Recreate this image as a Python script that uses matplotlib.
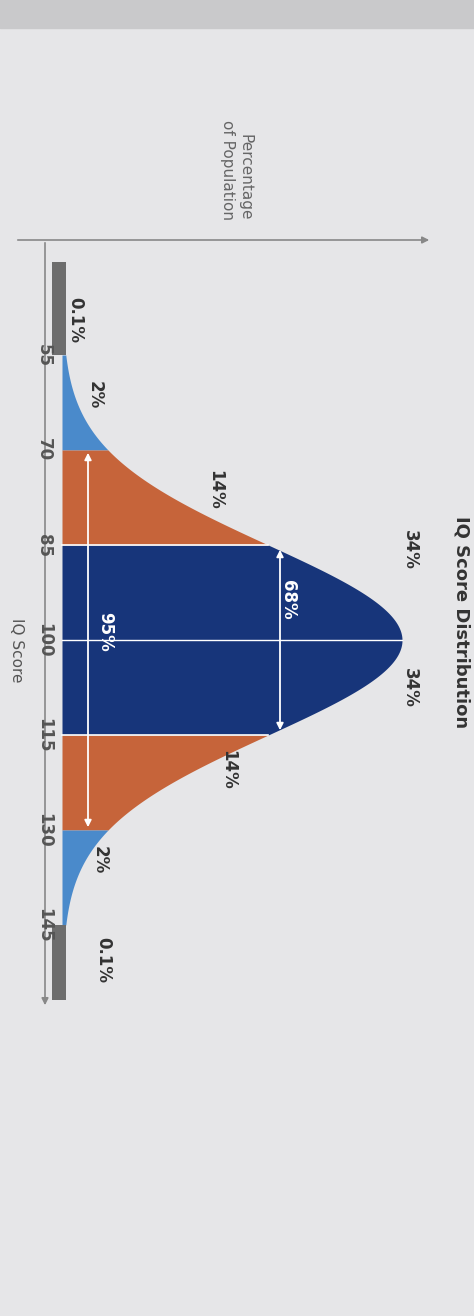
import numpy as np
import matplotlib
matplotlib.use("Agg")
import matplotlib.pyplot as plt

iq_ticks = [55, 70, 85, 100, 115, 130, 145]
region_edges = [55, 70, 85, 100, 115, 130, 145]
region_labels = ["2%", "14%", "34%", "34%", "14%", "2%"]
tail_labels = ["0.1%", "0.1%"]

W, H = 474, 1316
fig = plt.figure(figsize=(W/100, H/100), dpi=100)
ax = fig.add_axes([0, 0, 1, 1])
ax.set_xlim(0, W); ax.set_ylim(H, 0); ax.axis("off")
fig.patch.set_facecolor("#e6e6e8")
ax.axhspan(0, 28, color="#c9c9cb")

def ypos(iq): return 355 + (iq - 55) * 95/15
base, amp = 62, 340
def curve(iq): return base + amp*np.exp(-0.5*((np.asarray(iq)-100)/15)**2)

colors = ["#4a8acb", "#c6643a", "#17357a", "#17357a", "#c6643a", "#4a8acb"]
for i in range(6):
    q = np.linspace(region_edges[i], region_edges[i+1], 100)
    ax.fill_betweenx(ypos(q), base, curve(q), color=colors[i], lw=0)
# gray tails
ax.fill_betweenx([262, 355], 52, 66, color="#6d6d6d", lw=0)
ax.fill_betweenx([925, 1000], 52, 66, color="#6d6d6d", lw=0)

# white lines
for e in [85, 115]:
    ax.plot([base, curve(e)], [ypos(e)]*2, color="white", lw=1.2)
ax.plot([base, curve(100)], [ypos(100)]*2, color="white", lw=1)
ax.annotate("", xy=(280, ypos(85)+2), xytext=(280, ypos(115)-2),
            arrowprops=dict(arrowstyle="<|-|>", color="white", lw=1.3))
ax.annotate("", xy=(88, ypos(70)), xytext=(88, ypos(130)),
            arrowprops=dict(arrowstyle="<|-|>", color="white", lw=1.3))

# axes
ax.annotate("", xy=(432, 240), xytext=(15, 240),
            arrowprops=dict(arrowstyle="-|>", color="#888888", lw=1.2))
ax.annotate("", xy=(45, 1008), xytext=(45, 240),
            arrowprops=dict(arrowstyle="-|>", color="#888888", lw=1.2))

kw = dict(rotation=-90, ha="center", va="center")
for t in iq_ticks:
    ax.text(44, ypos(t), str(t), fontsize=12, fontweight="bold", color="#555555", **kw)
lab_pos = [(95, 395), (215, 490), (410, 550), (410, 688), (228, 770), (100, 860)]
for (x, y), s in zip(lab_pos, region_labels):
    ax.text(x, y, s, fontsize=12, fontweight="bold", color="#333333", **kw)
for (x, y), s in zip([(75, 320), (103, 960)], tail_labels):
    ax.text(x, y, s, fontsize=12, fontweight="bold", color="#333333", **kw)
ax.text(288, 600, "68%", fontsize=12, fontweight="bold", color="white", **kw)
ax.text(105, 632, "95%", fontsize=12, fontweight="bold", color="white", **kw)
ax.text(462, 622, "IQ Score Distribution", fontsize=13, fontweight="bold", color="#333333", **kw)
ax.text(16, 650, "IQ Score", fontsize=11, color="#555555", **kw)
ax.text(236, 170, "Percentage\nof Population", fontsize=11, color="#666666",
        rotation=-90, ha="center", va="center", multialignment="right")

fig.savefig("out.png", dpi=100, facecolor=fig.get_facecolor())
